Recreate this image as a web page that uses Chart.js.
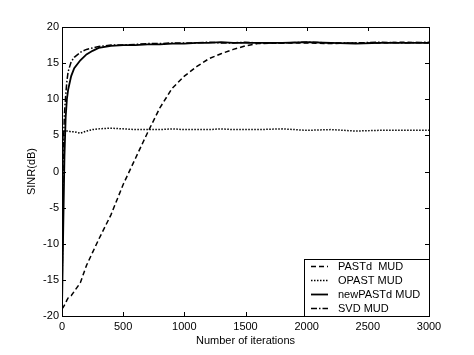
<!DOCTYPE html>
<html><head><meta charset="utf-8">
<script src="https://cdn.jsdelivr.net/npm/chart.js@4/dist/chart.umd.min.js"></script>
<style>html,body{margin:0;padding:0;background:#fff}#wrap{width:474px;height:355px}</style>
</head><body><div id="wrap"><canvas id="c" width="474" height="355"></canvas></div>
<script>
const iterations = [0,10,20,30,40,50,75,100,150,200,250,300,400,500,600,700,800,900,1000,1100,1200,1300,1400,1500,1600,1800,2000,2200,2400,2600,2800,3000];
const pastd    = [-19,-18.8,-18.5,-18.2,-17.8,-17.5,-17.2,-16.6,-15.4,-13,-11.2,-9.4,-6,-1.8,1.8,5.4,8.8,11.5,13.2,14.5,15.6,16.3,16.9,17.4,17.7,17.8,17.8,17.7,17.8,17.8,17.9,17.8];
const opast    = [-19,5.4,5.6,5.6,5.6,5.6,5.5,5.5,5.3,5.6,5.8,5.9,6.0,5.9,5.8,5.8,5.8,5.9,5.8,5.8,5.8,5.9,5.8,5.8,5.8,5.9,5.7,5.8,5.6,5.7,5.7,5.7];
const newpastd = [-19,-8,2,7.5,10,11.3,13.2,14.3,15.4,16.2,16.7,17.1,17.4,17.5,17.5,17.6,17.6,17.7,17.7,17.8,17.8,17.9,17.8,17.8,17.8,17.8,17.9,17.8,17.7,17.8,17.8,17.8];
const svd      = [-19,3,8,10.5,12.5,13.8,15.2,15.8,16.5,16.9,17.1,17.3,17.5,17.5,17.6,17.7,17.7,17.8,17.8,17.8,17.9,17.8,17.8,17.9,17.8,17.8,17.9,17.8,17.8,17.9,17.8,17.9];
const seriesNames = ['PASTd  MUD','OPAST MUD','newPASTd MUD','SVD MUD'];
const xTicks = [0,500,1000,1500,2000,2500,3000];
const yTicks = [-20,-15,-10,-5,0,5,10,15,20];

const pts = arr => iterations.map((x,i)=>({x:x,y:arr[i]}));
const FONT = '"Liberation Sans", Arial, sans-serif';
const styles = [[5,3],[1.5,1.5],[],[6,2,1.5,2]];
const datasets = [pastd, opast, newpastd, svd].map((arr,i)=>({
  label: seriesNames[i], data: pts(arr), borderColor:'#000', borderWidth: i===2?1.8:1.5,
  borderDash: styles[i], pointRadius:0, fill:false, tension:0
}));

const boxPlugin = {
  id:'box',
  afterDraw(chart){
    const ctx = chart.ctx, a = chart.chartArea;
    const xs = chart.scales.x, ys = chart.scales.y;
    ctx.save();
    ctx.strokeStyle='#000'; ctx.lineWidth=1;
    ctx.strokeRect(Math.round(a.left)+0.5, Math.round(a.top)+0.5, Math.round(a.right-a.left), Math.round(a.bottom-a.top));
    const L=4;
    ctx.beginPath();
    xTicks.forEach(v=>{const p=Math.round(xs.getPixelForValue(v))+0.5;
      ctx.moveTo(p,a.bottom); ctx.lineTo(p,a.bottom-L); ctx.moveTo(p,a.top); ctx.lineTo(p,a.top+L);});
    yTicks.forEach(v=>{const p=Math.round(ys.getPixelForValue(v))+0.5;
      ctx.moveTo(a.left,p); ctx.lineTo(a.left+L,p); ctx.moveTo(a.right,p); ctx.lineTo(a.right-L,p);});
    ctx.stroke();
    // legend
    const bx = a.right-125, by = a.bottom-57;
    ctx.fillStyle='#fff'; ctx.fillRect(bx,by,125,57);
    ctx.strokeRect(Math.round(bx)+0.5, Math.round(by)+0.5, 125, 57);
    ctx.font='11px '+FONT; ctx.fillStyle='#000'; ctx.textBaseline='middle';
    seriesNames.forEach((n,i)=>{
      const y = Math.round(by+7+i*14)+0.5;
      ctx.beginPath(); ctx.setLineDash(styles[i]); ctx.lineWidth = i===2?1.8:1.5;
      ctx.moveTo(bx+7,y); ctx.lineTo(bx+24,y); ctx.stroke();
      ctx.setLineDash([]);
      ctx.fillText(n, bx+34, y);
    });
    ctx.restore();
  }
};

new Chart(document.getElementById('c'), {
  type:'line',
  data:{datasets},
  options:{
    responsive:false, animation:false, devicePixelRatio:1,
    layout:{padding:{left:25,top:27,right:45,bottom:0}},
    plugins:{legend:{display:false}, tooltip:{enabled:false}},
    scales:{
      x:{type:'linear', min:0, max:3000,
        afterBuildTicks(s){s.ticks=xTicks.map(v=>({value:v}));},
        afterFit(s){s.height=39;},
        grid:{display:false, drawTicks:false}, border:{display:false},
        ticks:{color:'#000', font:{family:FONT,size:11}, padding:4, maxRotation:0, callback:v=>String(v)},
        title:{display:true, text:'Number of iterations', color:'#000', font:{family:FONT,size:11}, padding:{top:0,bottom:7}}
      },
      y:{type:'linear', min:-20, max:20,
        afterBuildTicks(s){s.ticks=yTicks.map(v=>({value:v}));},
        afterFit(s){s.width=37;},
        grid:{display:false, drawTicks:false}, border:{display:false},
        ticks:{color:'#000', font:{family:FONT,size:11}, padding:3, callback:v=>String(v)},
        title:{display:true, text:'SINR(dB)', color:'#000', font:{family:FONT,size:11}, padding:{top:0,bottom:0}}
      }
    }
  },
  plugins:[boxPlugin]
});
</script></body></html>
